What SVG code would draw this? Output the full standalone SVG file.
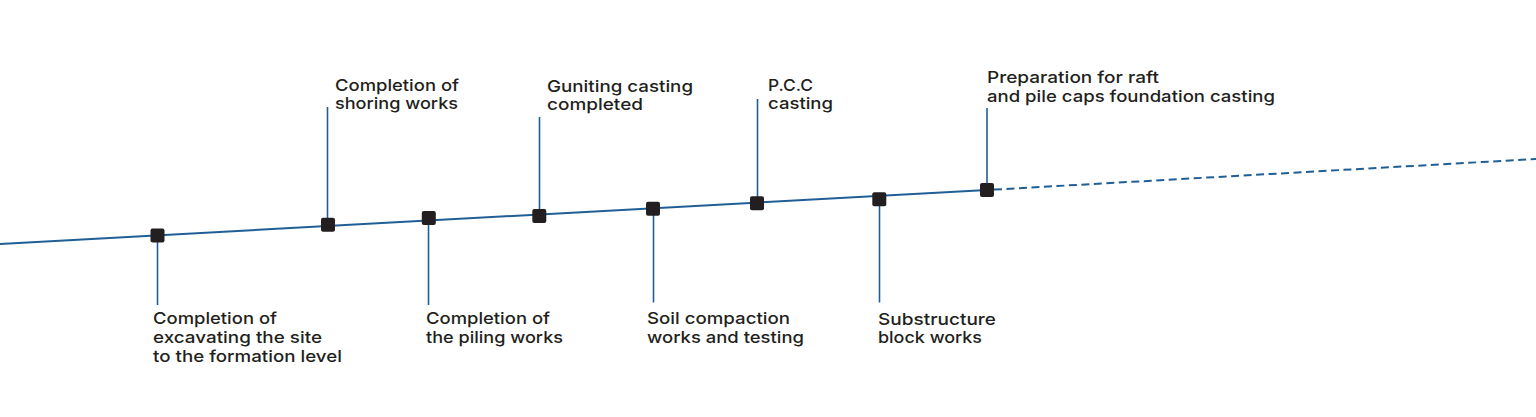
<svg xmlns="http://www.w3.org/2000/svg" width="1536" height="417" viewBox="0 0 1536 417">
<style>
.bg{fill:#ffffff}
.axis{stroke:#1f5f96;stroke-width:2;fill:none}
.dash{stroke:#1f5f96;stroke-width:2;fill:none;stroke-dasharray:8 4.5}
.tick{stroke:#1f5f96;stroke-width:1.6;fill:none}
.mark{fill:#231f20}
.lbl{font-family:Inter,"Open Sans","Liberation Sans",sans-serif;font-size:16.5px;font-weight:500;fill:#231f20}
</style>
<rect class="bg" x="0" y="0" width="1536" height="417"/>
<g id="connectors">
  <line class="axis" x1="0" y1="244" x2="987" y2="190"/>
  <line class="dash" x1="994" y1="189.6" x2="1536" y2="159"/>
  <line class="tick" x1="157.5" y1="236" x2="157.5" y2="305"/>
  <line class="tick" x1="327.5" y1="107" x2="327.5" y2="224"/>
  <line class="tick" x1="428.5" y1="218" x2="428.5" y2="305"/>
  <line class="tick" x1="539.5" y1="117" x2="539.5" y2="216"/>
  <line class="tick" x1="653.5" y1="209" x2="653.5" y2="302.5"/>
  <line class="tick" x1="757.5" y1="99" x2="757.5" y2="203"/>
  <line class="tick" x1="879.5" y1="199" x2="879.5" y2="302.5"/>
  <line class="tick" x1="987" y1="108" x2="987" y2="190"/>
</g>
<g id="node1">
  <rect class="mark" x="150.5" y="228.5" width="14" height="14" rx="2"/>
  <text class="lbl"><tspan x="153" y="324" textLength="124" lengthAdjust="spacingAndGlyphs">Completion of</tspan><tspan x="153" y="343" textLength="169" lengthAdjust="spacingAndGlyphs">excavating the site</tspan><tspan x="153" y="362" textLength="189" lengthAdjust="spacingAndGlyphs">to the formation level</tspan></text>
</g>
<g id="node2">
  <rect class="mark" x="321" y="217.7" width="14" height="14" rx="2"/>
  <text class="lbl"><tspan x="335" y="90.5" textLength="124" lengthAdjust="spacingAndGlyphs">Completion of</tspan><tspan x="335" y="109" textLength="123" lengthAdjust="spacingAndGlyphs">shoring works</tspan></text>
</g>
<g id="node3">
  <rect class="mark" x="421.8" y="211" width="14" height="14" rx="2"/>
  <text class="lbl"><tspan x="426" y="324" textLength="124" lengthAdjust="spacingAndGlyphs">Completion of</tspan><tspan x="426" y="343" textLength="137" lengthAdjust="spacingAndGlyphs">the piling works</tspan></text>
</g>
<g id="node4">
  <rect class="mark" x="532.3" y="209" width="14" height="14" rx="2"/>
  <text class="lbl"><tspan x="547" y="92" textLength="146" lengthAdjust="spacingAndGlyphs">Guniting casting</tspan><tspan x="547" y="110" textLength="96" lengthAdjust="spacingAndGlyphs">completed</tspan></text>
</g>
<g id="node5">
  <rect class="mark" x="646" y="201.7" width="14" height="14" rx="2"/>
  <text class="lbl"><tspan x="647" y="324" textLength="143" lengthAdjust="spacingAndGlyphs">Soil compaction</tspan><tspan x="647" y="343" textLength="157" lengthAdjust="spacingAndGlyphs">works and testing</tspan></text>
</g>
<g id="node6">
  <rect class="mark" x="750" y="196.3" width="14" height="14" rx="2"/>
  <text class="lbl"><tspan x="768" y="91" textLength="45" lengthAdjust="spacingAndGlyphs">P.C.C</tspan><tspan x="768" y="109" textLength="65" lengthAdjust="spacingAndGlyphs">casting</tspan></text>
</g>
<g id="node7">
  <rect class="mark" x="872.3" y="192.3" width="14" height="14" rx="2"/>
  <text class="lbl"><tspan x="878" y="325" textLength="118" lengthAdjust="spacingAndGlyphs">Substructure</tspan><tspan x="878" y="342.5" textLength="104" lengthAdjust="spacingAndGlyphs">block works</tspan></text>
</g>
<g id="node8">
  <rect class="mark" x="980" y="183" width="14" height="14" rx="2"/>
  <text class="lbl"><tspan x="987" y="83" textLength="172" lengthAdjust="spacingAndGlyphs">Preparation for raft</tspan><tspan x="987" y="102" textLength="288" lengthAdjust="spacingAndGlyphs">and pile caps foundation casting</tspan></text>
</g>
</svg>
